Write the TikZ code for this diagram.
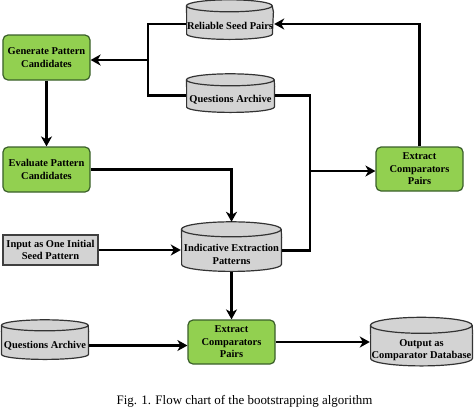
\documentclass[tikz,border=0pt]{standalone}
\usepackage{fontspec}
\setmainfont{Liberation Serif}
\usetikzlibrary{arrows.meta, positioning}

\definecolor{boxgreen}{HTML}{92D050}
\definecolor{darkgreen}{HTML}{3A5F2A}
\definecolor{boxgray}{HTML}{D3D3D3}
\definecolor{storeline}{HTML}{333333}

\tikzset{
  boxfont/.style={font=\fontsize{10.5}{12.5}\selectfont\bfseries},
  greenbox/.style={rectangle, rounded corners=5bp, draw=darkgreen, fill=boxgreen, line width=1.2bp,
    align=center, inner sep=1bp, boxfont},
  graybox/.style={rectangle, draw=black!75, fill=boxgray, line width=1.2bp,
    align=center, inner sep=1bp, boxfont},
  % front part of a drum: width, height, depth of the end ellipse
  store/.style n args={3}{rectangle, minimum width=#1, minimum height=#2, inner sep=1bp, align=center, boxfont,
    path picture={
      \filldraw[fill=boxgray, draw=storeline, line width=1.2bp]
        ([xshift=0.6bp]path picture bounding box.north west)
        -- ([xshift=0.6bp, yshift=#3]path picture bounding box.south west)
        arc[start angle=180, end angle=360, x radius=#1/2-0.6bp, y radius=#3-0.6bp]
        -- ([xshift=-0.6bp]path picture bounding box.north east);
    }},
  capline/.style={fill=boxgray, draw=storeline, line width=1.2bp},
  link/.style={line width=2.5bp},
  arr/.style={link, -{Stealth[length=10bp,width=11bp,inset=3bp]}}
}

\begin{document}
\begin{tikzpicture}[x=1bp, y=-1bp]
  \useasboundingbox (0,0) rectangle (474,407);

  % stores
  \node[store={87bp}{28bp}{6bp}] (seeds) at (230,26) {Reliable Seed Pairs};
  \node[store={89bp}{27bp}{6bp}] (archA) at (230.5,99.5) {Questions Archive};
  \node[store={101bp}{35bp}{7.5bp}] (patterns) at (231.5,254.5) {Indicative Extraction\\Patterns};
  \node[store={88bp}{29bp}{5.5bp}] (archB) at (45,345.5) {Questions Archive};
  \node[store={103bp}{33bp}{8bp}] (output) at (421.5,350) {Output as\\Comparator Database};

  % tops of the stores
  \foreach \n/\w/\r in {seeds/87/6, archA/89/6, patterns/101/7.5, archB/88/5.5, output/103/8}{
    \filldraw[capline] ([xshift=0.6bp, yshift=-1bp]\n.north west) -- ([xshift=0.6bp, yshift=\r*1bp]\n.north west)
      arc[start angle=180, end angle=0, x radius=\w*0.5bp-0.6bp, y radius=\r*1bp]
      -- ([xshift=-0.6bp, yshift=-1bp]\n.north east);
    \draw[capline, fill=none] ([xshift=0.6bp, yshift=\r*1bp]\n.north west)
      arc[start angle=180, end angle=360, x radius=\w*0.5bp-0.6bp, y radius=\r*1bp];
  }

  % process boxes
  \node[greenbox, minimum width=87bp, minimum height=45bp] (generate) at (46.5,57.5) {Generate Pattern\\Candidates};
  \node[greenbox, minimum width=87bp, minimum height=45bp] (evaluate) at (46.5,169.5) {Evaluate Pattern\\Candidates};
  \node[greenbox, minimum width=87bp, minimum height=44bp] (extractA) at (419.5,169) {Extract\\Comparators\\Pairs};
  \node[greenbox, minimum width=87bp, minimum height=44bp] (extractB) at (231.5,342) {Extract\\Comparators\\Pairs};
  \node[graybox, minimum width=95bp, minimum height=30bp] (input) at (50.5,250) {Input as One Initial\\Seed Pattern};

  % junctions
  \coordinate (jl) at (148,60);
  \coordinate (jr) at (310,171);

  % connectors
  \draw[link] ([yshift=2bp]seeds.west) -| (jl) |- ([yshift=4bp]archA.west);
  \draw[arr] (jl) -- (generate.east |- jl);
  \draw[arr] (generate) -- (evaluate);
  \draw[arr] (evaluate.east) -| ([yshift=15bp]patterns.north);
  \draw[link] ([yshift=4bp]archA.east) -| (jr) |- ([yshift=4bp]patterns.east);
  \draw[arr] (jr) -- (extractA.west |- jr);
  \draw[arr] (extractA.north) |- ([yshift=2bp]seeds.east);
  \draw[arr] (input) -- (patterns.west |- input);
  \draw[arr] (patterns) -- (extractB);
  \draw[arr] (archB.east) -- (extractB.west |- archB.east);
  \draw[arr] (extractB.east) -- (output.west |- extractB.east);

  % caption
  \node[font=\fontsize{13}{15}\selectfont] (caption) at (244.5,401) {Fig. 1. Flow chart of the bootstrapping algorithm};
\end{tikzpicture}
\end{document}
